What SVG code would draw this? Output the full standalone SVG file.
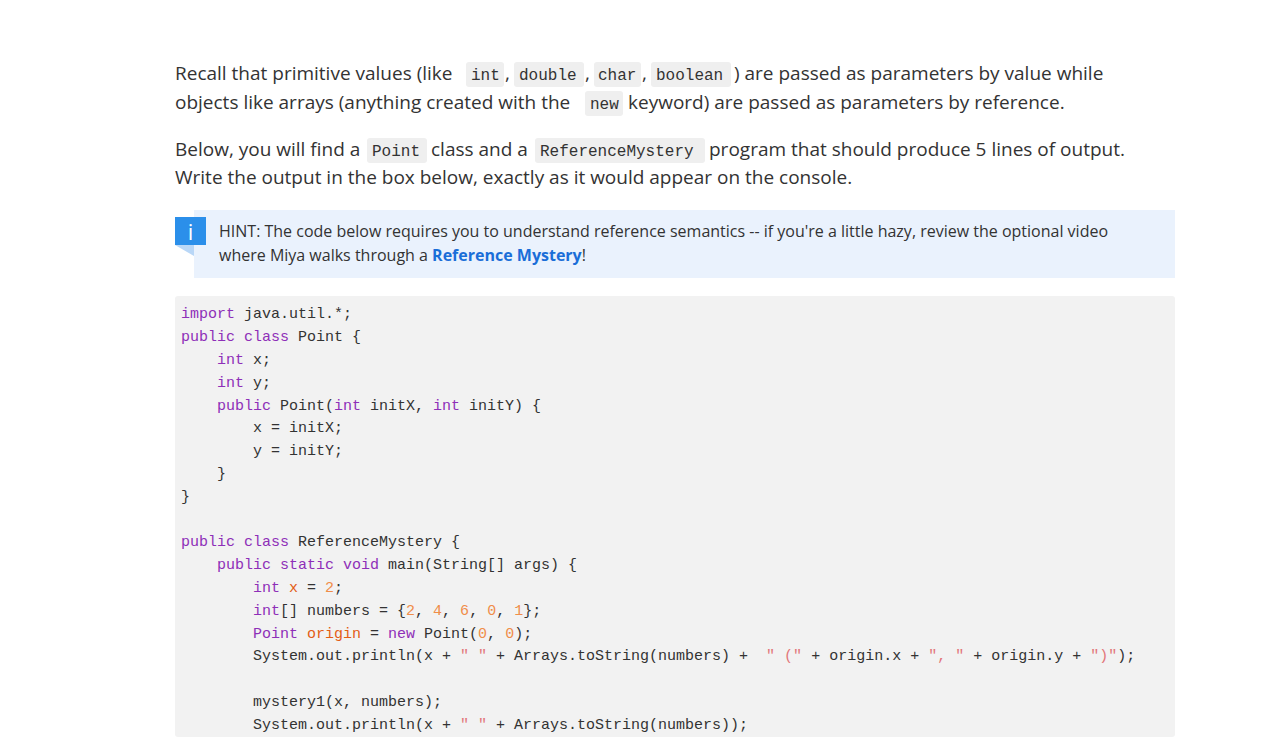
<svg xmlns="http://www.w3.org/2000/svg" width="1271" height="737" viewBox="0 0 1271 737">
<style>
.b{font-family:"Open Sans",sans-serif;font-size:19px;fill:#333}
.ic{font-family:"Liberation Mono",monospace;font-size:16px;fill:#333}
.icb{fill:#efefef}
.h{font-family:"Open Sans",sans-serif;font-size:16px;fill:#333}
.c{font-family:"Liberation Mono",monospace;font-size:15px;fill:#333;white-space:pre}
.k{fill:#8e2fb8}.n{fill:#f08d49}.s{fill:#e2777a}.v{fill:#e35d16}
</style>
<rect width="1271" height="737" fill="#fff"/>
<g id="intro">
<rect class="icb" x="466" y="62" width="38" height="25" rx="3"/>
<rect class="icb" x="514" y="62" width="70" height="25" rx="3"/>
<rect class="icb" x="594" y="62" width="47" height="25" rx="3"/>
<rect class="icb" x="651" y="62" width="80" height="25" rx="3"/>
<rect class="icb" x="585" y="91" width="38" height="25" rx="3"/>
<rect class="icb" x="367" y="138" width="60" height="25" rx="3"/>
<rect class="icb" x="535" y="138" width="170" height="25" rx="3"/>
<text class="b" x="175" y="80">Recall that primitive values (like</text>
<text class="ic" x="471" y="80">int</text><text class="b" x="505" y="80">,</text>
<text class="ic" x="519" y="80">double</text><text class="b" x="585" y="80">,</text>
<text class="ic" x="598" y="80">char</text><text class="b" x="642" y="80">,</text>
<text class="ic" x="656" y="80">boolean</text>
<text class="b" x="734" y="80">) are passed as parameters by value while</text>
<text class="b" x="175" y="109">objects like arrays (anything created with the</text>
<text class="ic" x="590" y="109">new</text>
<text class="b" x="628" y="109">keyword) are passed as parameters by reference.</text>
<text class="b" x="175" y="156">Below, you will find a</text>
<text class="ic" x="372" y="156">Point</text>
<text class="b" x="431" y="156">class and a</text>
<text class="ic" x="540" y="156">ReferenceMystery</text>
<text class="b" x="709" y="156">program that should produce 5 lines of output.</text>
<text class="b" x="175" y="184">Write the output in the box below, exactly as it would appear on the console.</text>
</g>
<g id="hint">
<rect x="194" y="210" width="981" height="68" fill="#eaf2fd"/>
<polygon points="175,245 194,245 194,256" fill="#b9d7f7"/>
<rect x="175" y="217" width="31" height="28" fill="#2b8fea"/>
<text x="190.5" y="240" font-family="Open Sans,sans-serif" font-size="22" fill="#fff" text-anchor="middle">i</text>
<text class="h" x="219" y="237">HINT: The code below requires you to understand reference semantics -- if you're a little hazy, review the optional video</text>
<text class="h" x="219" y="261">where Miya walks through a <tspan fill="#1a6ed8" font-weight="bold">Reference Mystery</tspan>!</text>
</g>
<g id="code">
<rect x="175" y="296" width="1000" height="441" rx="3" fill="#f2f2f2"/>
<text class="c" x="181" y="318"><tspan class="k">import</tspan> java.util.*;</text>
<text class="c" x="181" y="341"><tspan class="k">public class</tspan> Point {</text>
<text class="c" x="217" y="364"><tspan class="k">int</tspan> x;</text>
<text class="c" x="217" y="387"><tspan class="k">int</tspan> y;</text>
<text class="c" x="217" y="410"><tspan class="k">public</tspan> Point(<tspan class="k">int</tspan> initX, <tspan class="k">int</tspan> initY) {</text>
<text class="c" x="253" y="432">x = initX;</text>
<text class="c" x="253" y="455">y = initY;</text>
<text class="c" x="217" y="478">}</text>
<text class="c" x="181" y="501">}</text>
<text class="c" x="181" y="546"><tspan class="k">public class</tspan> ReferenceMystery {</text>
<text class="c" x="217" y="569"><tspan class="k">public static void</tspan> main(String[] args) {</text>
<text class="c" x="253" y="592"><tspan class="k">int</tspan> <tspan class="v">x</tspan> = <tspan class="n">2</tspan>;</text>
<text class="c" x="253" y="615"><tspan class="k">int</tspan>[] numbers = {<tspan class="n">2</tspan>, <tspan class="n">4</tspan>, <tspan class="n">6</tspan>, <tspan class="n">0</tspan>, <tspan class="n">1</tspan>};</text>
<text class="c" x="253" y="638"><tspan class="k">Point</tspan> <tspan class="v">origin</tspan> = <tspan class="k">new</tspan> Point(<tspan class="n">0</tspan>, <tspan class="n">0</tspan>);</text>
<text class="c" x="253" y="660">System.out.println(x + <tspan class="s">" "</tspan> + Arrays.toString(numbers) +  <tspan class="s">" ("</tspan> + origin.x + <tspan class="s">", "</tspan> + origin.y + <tspan class="s">")"</tspan>);</text>
<text class="c" x="253" y="706">mystery1(x, numbers);</text>
<text class="c" x="253" y="729">System.out.println(x + <tspan class="s">" "</tspan> + Arrays.toString(numbers));</text>
</g>
</svg>
